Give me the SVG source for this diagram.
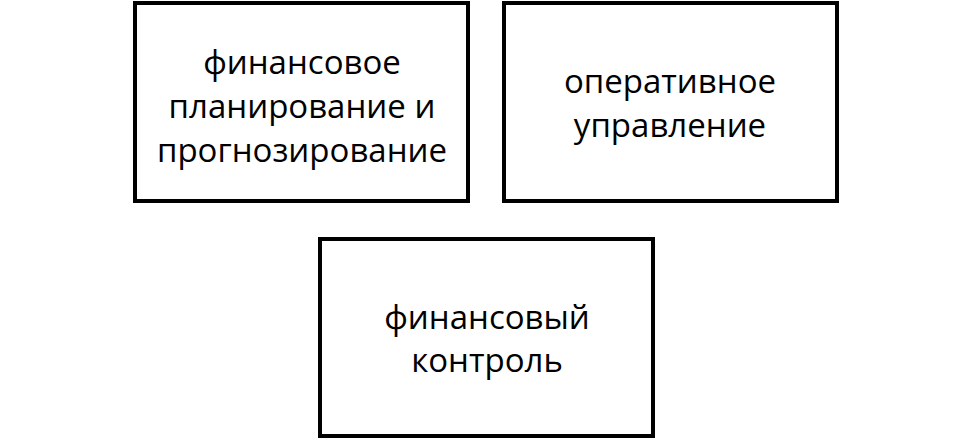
<svg xmlns="http://www.w3.org/2000/svg" width="972" height="440" viewBox="0 0 972 440">
<style>
.box{fill:#fff;stroke:#000;stroke-width:4}
.t{font-family:"Open Sans","Noto Sans",sans-serif;font-size:33px;fill:#000;text-anchor:middle}
</style>
<rect width="972" height="440" fill="#fff"/>
<g id="connectors"></g>
<g id="node1">
<rect class="box" x="135" y="3" width="333" height="198"/>
<text class="t" x="302" y="74">финансовое</text>
<text class="t" x="302" y="118">планирование и</text>
<text class="t" x="302" y="162">прогнозирование</text>
</g>
<g id="node2">
<rect class="box" x="504" y="3" width="333" height="198"/>
<text class="t" x="670" y="93">оперативное</text>
<text class="t" x="670" y="137">управление</text>
</g>
<g id="node3">
<rect class="box" x="320" y="239" width="333" height="197"/>
<text class="t" x="487" y="329">финансовый</text>
<text class="t" x="487" y="372">контроль</text>
</g>
</svg>
